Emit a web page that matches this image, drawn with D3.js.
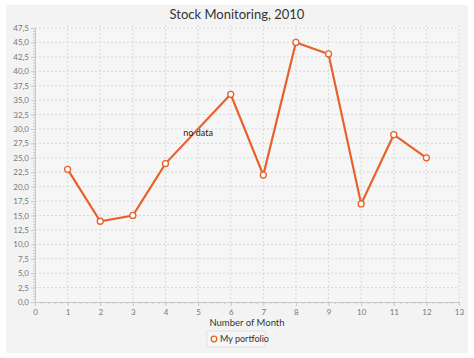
<!DOCTYPE html>
<html><head><meta charset="utf-8">
<script src="https://cdn.jsdelivr.net/npm/d3@7"></script>
<style>body{margin:0;background:#fff}svg{display:block}</style>
</head><body>
<script>
const months = [1,2,3,4,5,6,7,8,9,10,11,12];
const values = [23,14,15,24,null,36,22,45,43,17,29,25];
const xTicks = d3.range(0,14);
const yTicks = d3.range(0,48,2.5);
const title = "Stock Monitoring, 2010";
const xLabel = "Number of Month";
const seriesName = "My portfolio";
const annotations = [{x:5, y:30, text:"no data"}];

(function(){
const W=474,H=358;
const svg=d3.select("body").append("svg").attr("width",W).attr("height",H);
const font="Lato, 'Open Sans', sans-serif";
const col="#e8612c";

svg.append("rect").attr("x",6).attr("y",5).attr("width",462).attr("height",348).attr("fill","#f3f3f3");

const x=d3.scaleLinear().domain([0,13]).range([35,459]);
const y=d3.scaleLinear().domain([0,47.5]).range([302,28]);
const plotTop=25;

svg.append("rect").attr("x",35).attr("y",plotTop).attr("width",424).attr("height",302-plotTop).attr("fill","#f6f6f6");

const grid=svg.append("g");
grid.selectAll("line.v").data(xTicks.slice(1)).join("line")
  .attr("x1",d=>x(d)).attr("x2",d=>x(d)).attr("y1",plotTop).attr("y2",302)
  .attr("stroke","#d8d8d8").attr("stroke-dasharray","2,2");
grid.selectAll("line.h").data(yTicks.slice(1)).join("line")
  .attr("y1",d=>y(d)).attr("y2",d=>y(d)).attr("x1",35).attr("x2",459)
  .attr("stroke","#d8d8d8").attr("stroke-dasharray","2,2");

const fmt=d=>d3.format(".1f")(d).replace(".",",");
const ya=svg.append("g").attr("transform","translate(35,0)")
  .call(d3.axisLeft(y).tickValues(yTicks).tickFormat(fmt).tickSize(4).tickPadding(2));
const xa=svg.append("g").attr("transform","translate(0,302)")
  .call(d3.axisBottom(x).tickValues(xTicks).tickFormat(d3.format("d")).tickSize(4).tickPadding(3));
svg.append("g").attr("transform","translate(35,0)")
  .call(d3.axisLeft(y).tickValues(d3.range(0,47.6,0.5)).tickFormat("").tickSize(2))
  .select(".domain").remove();
svg.append("g").attr("transform","translate(0,302)")
  .call(d3.axisBottom(x).tickValues(d3.range(0,13.01,0.2)).tickFormat("").tickSize(2))
  .select(".domain").remove();
svg.selectAll(".domain").attr("stroke","#c8c8c8");
svg.selectAll(".tick line").attr("stroke","#c8c8c8");
[ya,xa].forEach(a=>a.selectAll("text").attr("font-family",font).attr("font-size",8).attr("fill","#777"));

const pts=months.map((m,i)=>({m,v:values[i]})).filter(d=>d.v!=null);
svg.append("path").datum(pts)
  .attr("d",d3.line().x(d=>x(d.m)).y(d=>y(d.v)))
  .attr("fill","none").attr("stroke",col).attr("stroke-width",2.2);
svg.selectAll("circle.pt").data(pts).join("circle")
  .attr("cx",d=>x(d.m)).attr("cy",d=>y(d.v)).attr("r",3)
  .attr("fill","#fff").attr("stroke",col).attr("stroke-width",1.3);

svg.selectAll("text.ann").data(annotations).join("text")
  .attr("x",d=>x(d.x)).attr("y",d=>y(d.y)+7).attr("text-anchor","middle")
  .attr("font-family",font).attr("font-size",9).attr("fill","#222").text(d=>d.text);

svg.append("text").attr("x",237).attr("y",19).attr("text-anchor","middle")
  .attr("font-family",font).attr("font-size",13).attr("fill","#333").text(title);
svg.append("text").attr("x",247).attr("y",326).attr("text-anchor","middle")
  .attr("font-family",font).attr("font-size",9.5).attr("fill","#333").text(xLabel);

const lg=svg.append("g");
lg.append("rect").attr("x",207).attr("y",331).attr("width",58).attr("height",16)
  .attr("fill","#f6f6f6").attr("stroke","#e2e2e2");
lg.append("circle").attr("cx",214).attr("cy",339).attr("r",2.8).attr("fill","#fff").attr("stroke",col).attr("stroke-width",1.3);
lg.append("text").attr("x",220).attr("y",342).attr("font-family",font).attr("font-size",9).attr("fill","#333").text(seriesName);
})();
</script>
</body></html>
